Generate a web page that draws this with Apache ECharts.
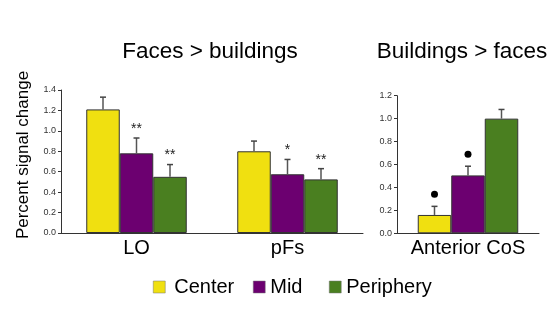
<!DOCTYPE html>
<html>
<head>
<meta charset="utf-8">
<script src="https://cdn.jsdelivr.net/npm/echarts@6/dist/echarts.min.js"></script>
<style>
  html, body { margin: 0; padding: 0; background: #fff; }
  #chart { width: 560px; height: 321px; }
</style>
</head>
<body>
<div id="chart"></div>
<script>
var seriesNames = ["Center", "Mid", "Periphery"];
var colors = ["#f0e010", "#6c0070", "#4a7f20"];

// Faces > buildings
var leftCats = ["LO", "pFs"];
var leftValues = [[1.21, 0.80], [0.78, 0.575], [0.55, 0.525]];
var leftErrors = [[0.12, 0.10], [0.15, 0.145], [0.12, 0.105]];
var leftMarks = [["", ""], ["**", "*"], ["**", "**"]];

// Buildings > faces
var rightCats = ["Anterior CoS"];
var rightValues = [[0.16], [0.505], [1.0]];
var rightErrors = [[0.075], [0.08], [0.08]];
var rightMarks = [["dot"], ["dot"], [""]];

var leftTicks = ["0.0", "0.2", "0.4", "0.6", "0.8", "1.0", "1.2", "1.4"];
var rightTicks = ["0.0", "0.2", "0.4", "0.6", "0.8", "1.0", "1.2"];

var font = "'Liberation Sans', Arial, sans-serif";
var barW = 33.5;

function errorSeries(gridIdx, s, cats, values, errors, marks) {
    return {
        type: 'custom',
        xAxisIndex: gridIdx,
        yAxisIndex: gridIdx,
        z: 5,
        silent: true,
        data: cats.map(function(c, j) {
            return [j, values[s][j], errors[s][j], marks[s][j]];
        }),
        renderItem: function(params, api) {
            var base = api.coord([api.value(0), api.value(1)]);
            var top = api.coord([api.value(0), api.value(1) + api.value(2)]);
            var x = base[0] + (s - 1) * barW;
            var mark = api.value(3);
            var kids = [
                { type: 'line', shape: { x1: x, y1: base[1], x2: x, y2: top[1] },
                  style: { stroke: '#555', lineWidth: 1.5 } },
                { type: 'line', shape: { x1: x - 3, y1: top[1], x2: x + 3, y2: top[1] },
                  style: { stroke: '#444', lineWidth: 1.5 } }
            ];
            if (mark === 'dot') {
                kids.push({ type: 'circle', shape: { cx: x, cy: top[1] - 12, r: 3.5 },
                            style: { fill: '#000' } });
            } else if (mark) {
                kids.push({ type: 'text', x: x, y: top[1] - 2,
                            style: { text: mark, fill: '#222', fontSize: 14, fontFamily: font,
                                     align: 'center', verticalAlign: 'bottom' } });
            }
            return { type: 'group', children: kids };
        }
    };
}

var series = [];
seriesNames.forEach(function(name, s) {
    series.push({
        name: name, type: 'bar', xAxisIndex: 0, yAxisIndex: 0,
        barWidth: barW, barGap: '0%',
        itemStyle: { color: colors[s], borderColor: '#333', borderWidth: 1 },
        data: leftValues[s]
    });
    series.push({
        name: name, type: 'bar', xAxisIndex: 1, yAxisIndex: 1,
        barWidth: barW, barGap: '0%',
        itemStyle: { color: colors[s], borderColor: '#333', borderWidth: 1 },
        data: rightValues[s]
    });
});
seriesNames.forEach(function(name, s) {
    series.push(errorSeries(0, s, leftCats, leftValues, leftErrors, leftMarks));
    series.push(errorSeries(1, s, rightCats, rightValues, rightErrors, rightMarks));
});

function legendFor(name, left, gap) {
    return {
        data: [name], left: left, top: 277, padding: 0,
        itemWidth: 12, itemHeight: 12, icon: 'rect',
        itemStyle: { borderColor: '#777', borderWidth: 0.5 },
        textStyle: { fontSize: 20, fontFamily: font, color: '#000', padding: [0, 0, 0, gap] },
        selectedMode: false
    };
}

var axisLabel = {
    fontSize: 9, fontFamily: font, color: '#333', margin: 5
};

var chart = echarts.init(document.getElementById('chart'));
chart.setOption({
    backgroundColor: '#fff',
    animation: false,
    title: [
        { text: 'Faces > buildings', left: 205, top: 35, textAlign: 'center',
          textStyle: { fontSize: 22.5, fontWeight: 'normal', fontFamily: font, color: '#000' } },
        { text: 'Buildings > faces', left: 457, top: 35, textAlign: 'center',
          textStyle: { fontSize: 22.5, fontWeight: 'normal', fontFamily: font, color: '#000' } }
    ],
    legend: [legendFor('Center', 153, 4), legendFor('Mid', 253, 0), legendFor('Periphery', 329, 0)],
    grid: [
        { left: 61, top: 90, width: 302, height: 143 },
        { left: 397, top: 95.7, width: 142, height: 137.6 }
    ],
    xAxis: [
        { type: 'category', gridIndex: 0, data: leftCats,
          axisLine: { lineStyle: { color: '#333', width: 1 } }, axisTick: { show: false },
          axisLabel: { fontSize: 20, fontFamily: font, color: '#000', margin: 5 } },
        { type: 'category', gridIndex: 1, data: rightCats,
          axisLine: { lineStyle: { color: '#333', width: 1 } }, axisTick: { show: false },
          axisLabel: { fontSize: 20, fontFamily: font, color: '#000', margin: 5 } }
    ],
    yAxis: [
        { type: 'value', gridIndex: 0, min: 0, max: 1.4, interval: 0.2,
          name: 'Percent signal change', nameLocation: 'middle', nameGap: 29,
          nameTextStyle: { fontSize: 17, fontFamily: font, color: '#000', padding: [0, 0, 0, 13] },
          axisLine: { show: true, lineStyle: { color: '#333' } },
          axisTick: { show: true, length: 3, lineStyle: { color: '#333' } },
          splitLine: { show: false },
          axisLabel: Object.assign({}, axisLabel, {
              formatter: function(v) { return leftTicks[Math.round(v / 0.2)]; } }) },
        { type: 'value', gridIndex: 1, min: 0, max: 1.2, interval: 0.2,
          axisLine: { show: true, lineStyle: { color: '#333' } },
          axisTick: { show: true, length: 3, lineStyle: { color: '#333' } },
          splitLine: { show: false },
          axisLabel: Object.assign({}, axisLabel, {
              formatter: function(v) { return rightTicks[Math.round(v / 0.2)]; } }) }
    ],
    series: series
});
</script>
</body>
</html>
